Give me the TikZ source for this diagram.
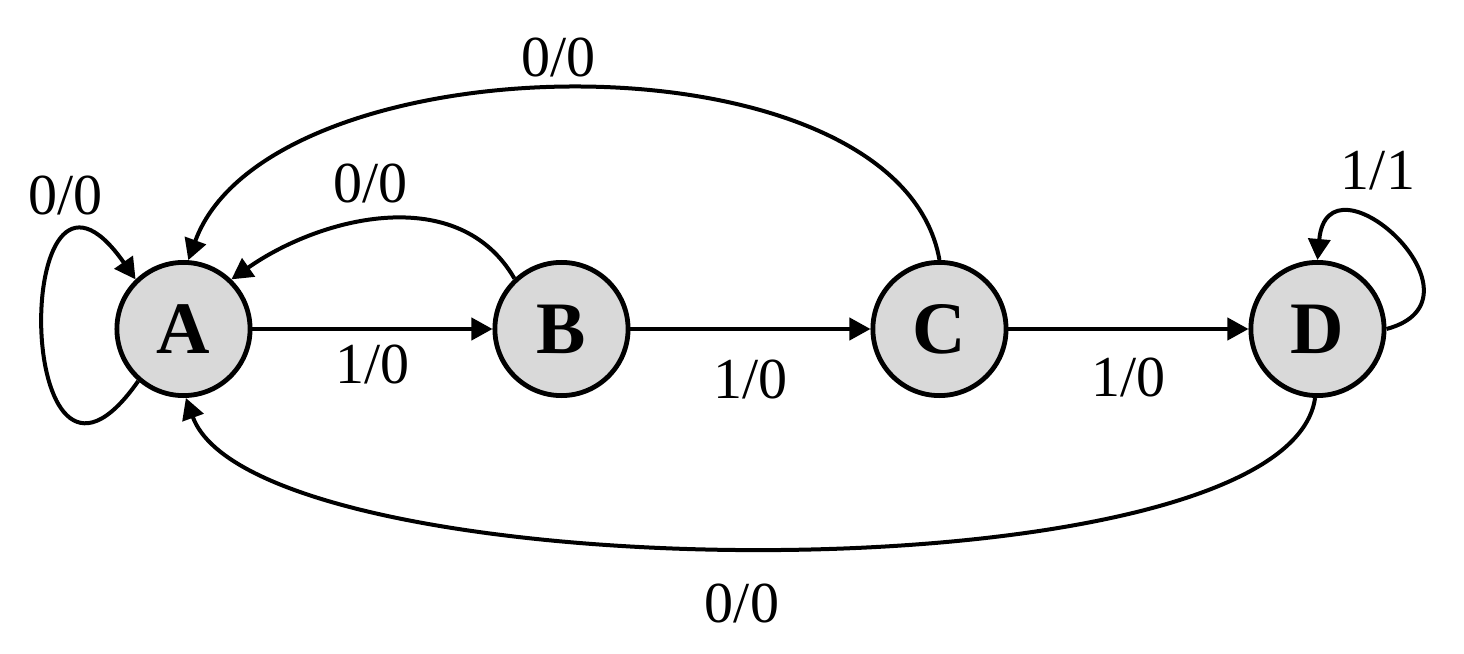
\documentclass[tikz,border=0pt]{standalone}
\usepackage{fontspec}
\setmainfont{Liberation Serif}
\usepackage{tikz}
\usetikzlibrary{arrows.meta}
\definecolor{stategray}{HTML}{D9D9D9}

\begin{document}
\begin{tikzpicture}[
   every matrix/.style={ampersand replacement=\&,column sep=120pt},
   state/.style={draw,circle,line width=2.4pt,fill=stategray,minimum size=66.6pt,inner sep=0pt,font=\fontsize{37}{40}\selectfont\bfseries},
   trans/.style={-{Triangle[length=10.5pt,width=11pt]},line width=2pt},
   lbl/.style={inner sep=0pt,font=\fontsize{29}{32}\selectfont}]
\useasboundingbox (-375.25pt,-162.5pt) rectangle (356.75pt,164.5pt);
\matrix (m) {
\node[state] (A) {A};\&\node[state] (B) {B};\&\node[state] (C) {C};\&\node[state] (D) {D};\\
};
\draw[trans] (A) to node[lbl,below=7pt] {1/0} (B);
\draw[trans] (B) to node[lbl,below=14.5pt] {1/0} (C);
\draw[trans] (C) to node[lbl,below=13.5pt] {1/0} (D);
\draw[trans] (B.133) to[out=120,in=35] node[lbl,pos=.55,above=8pt] {0/0} (A.46);
\draw[trans] (C.90) to[out=100,in=70,looseness=.81] node[lbl,pos=.52,above=5pt] {0/0} (A.86);
\draw[trans] (D.268) to[out=262,in=290,looseness=.47] node[lbl,pos=.515,below=17pt] {0/0} (A.272);
\draw[trans] (A.229) to[out=235,in=125,looseness=5.5] node[lbl,pos=.75,above=14pt] {0/0} (A.134);
\draw[trans] (D.0) to[out=15,in=85,looseness=3] node[lbl,pos=.6,above=17pt] {1/1} (D.90);
\end{tikzpicture}
\end{document}
